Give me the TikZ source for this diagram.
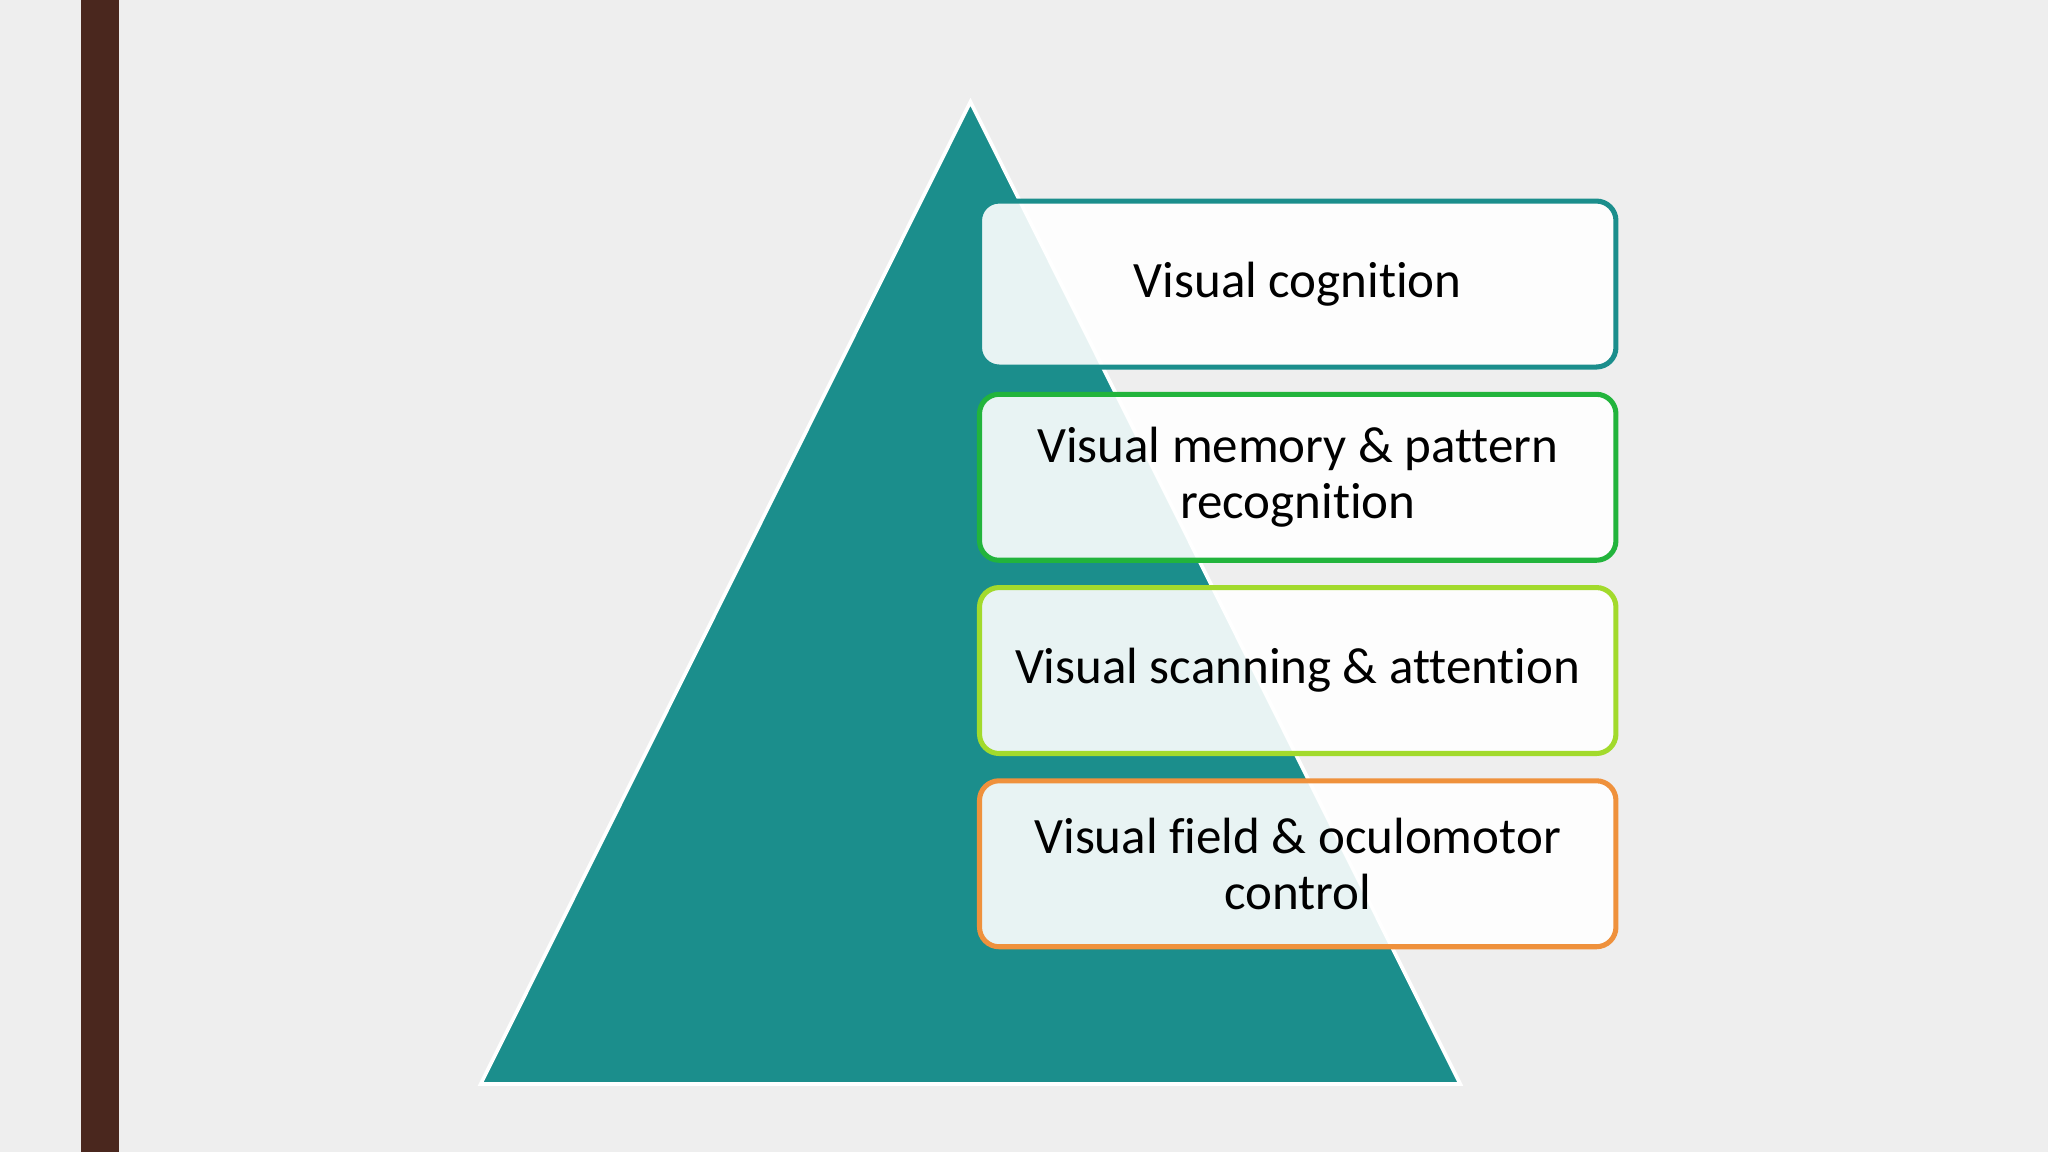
\documentclass[tikz,border=0pt]{standalone}
\usepackage{fontspec}
\setmainfont{Carlito}[Ligatures={NoCommon}]
\usetikzlibrary{positioning}
\definecolor{bgGray}{HTML}{EEEEEE}
\definecolor{barBrown}{HTML}{4A271E}
\definecolor{pyrTeal}{HTML}{1B8E8C}
\definecolor{lvlGreen}{HTML}{22B43C}
\definecolor{lvlLime}{HTML}{A2DA2C}
\definecolor{lvlOrange}{HTML}{EF913C}
\tikzset{
  level/.style={draw=#1, line width=1.1pt, rounded corners=0.15cm, fill=white, fill opacity=0.9,
    text opacity=1, minimum width=4.87cm, minimum height=1.27cm, align=center,
    font=\fontsize{11.1}{12.3}\selectfont},
}
\begin{document}
\begin{tikzpicture}[x=0.01cm, y=-0.01cm, node distance=0.17cm]
  \fill[bgGray] (0,0) rectangle (1568,882);
  \useasboundingbox (0,0) rectangle (1568,882);
  \fill[barBrown] (62,0) rectangle (91,882);

  % pyramid
  \coordinate (apex) at (743,78);
  \coordinate (baseL) at (368,830);
  \coordinate (baseR) at (1118,830);
  \draw[white, line width=0.8pt, fill=pyrTeal] (apex) -- (baseL) -- (baseR) -- cycle;

  % levels
  \node[level=pyrTeal, anchor=north west] (cognition) at (748,152) {Visual cognition};
  \node[level=lvlGreen, below=of cognition] (memory) {Visual memory \& pattern\\recognition};
  \node[level=lvlLime, below=of memory] (scanning) {Visual scanning \& attention};
  \node[level=lvlOrange, below=of scanning] (field) {Visual field \& oculomotor\\control};
\end{tikzpicture}
\end{document}
